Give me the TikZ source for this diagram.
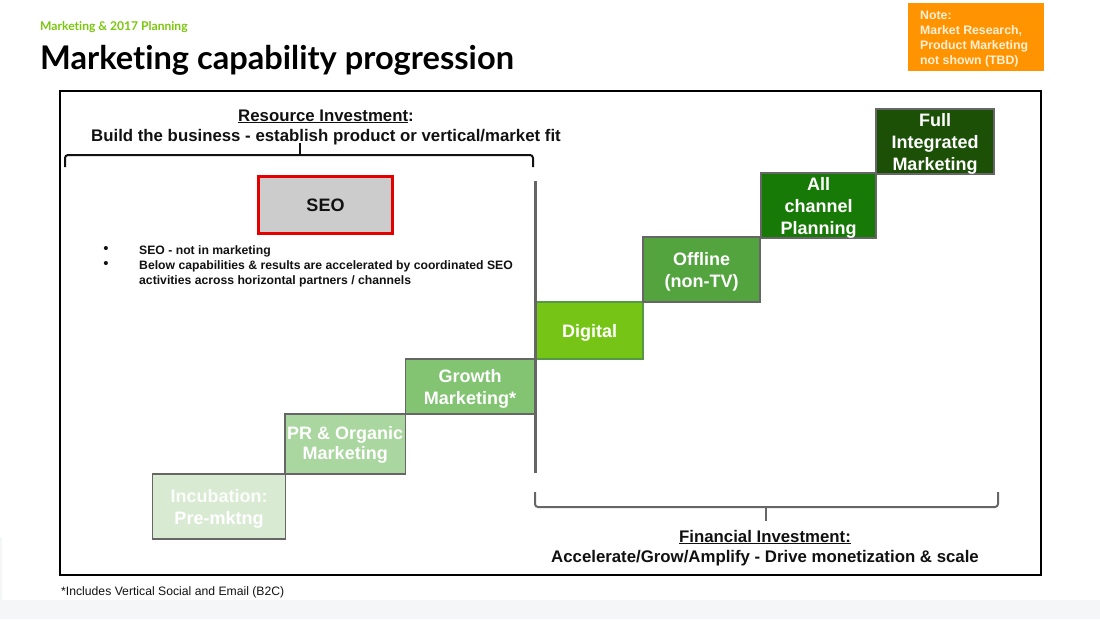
\documentclass[tikz,border=0pt]{standalone}
\usepackage{fontspec}
\setmainfont{Liberation Sans}
\newfontfamily\headfont[Ligatures=NoCommon]{Lato}
\definecolor{c1}{HTML}{D9EAD3}
\definecolor{c2}{HTML}{AAD69F}
\definecolor{c3}{HTML}{82C472}
\definecolor{c4}{HTML}{76C516}
\definecolor{c5}{HTML}{53A43F}
\definecolor{c6}{HTML}{177A06}
\definecolor{c7}{HTML}{1B5006}
\definecolor{edge}{HTML}{666666}
\definecolor{ink}{HTML}{111111}
\definecolor{soft}{HTML}{F5F6F8}
\definecolor{tag}{HTML}{7AC70C}
\definecolor{notebg}{HTML}{FF9400}
\definecolor{notefg}{HTML}{FFF0D8}
\tikzset{
 stepbox/.style={draw=edge,line width=1.2pt,inner sep=0pt,outer sep=0pt,anchor=north west},
 steplabel/.style={font=\bfseries\fontsize{18}{22}\selectfont,text=white,align=center,inner sep=0pt},
 bracegray/.style={draw=edge,line width=2pt,rounded corners=3pt},
 braceblack/.style={draw=ink,line width=2pt,rounded corners=3pt},
 headline/.style={font=\bfseries\fontsize{16.8}{20.5}\selectfont,text=ink,anchor=base,inner sep=0pt},
 smalltext/.style={font=\bfseries\fontsize{12.2}{15}\selectfont,text=ink,anchor=base west,inner sep=0pt},
 bulletmark/.style={font=\fontsize{15}{15}\selectfont,text=ink,inner sep=0pt}
}
\newcommand{\stepnode}[9]{%
 \node[stepbox,fill=#2,draw=#8,minimum width=#3pt,minimum height=#4pt] (#1) at (#5,#6) {};
 \node[steplabel] (#1t) at ([yshift=#9]#1.center) {#7};}
\begin{document}
\begin{tikzpicture}[x=1pt,y=-1pt]
\useasboundingbox (0,0) rectangle (1100,619);
\fill[soft] (0,600) rectangle (1100,619);
\fill[soft] (0,537) rectangle (2,600);
\node[anchor=base west,font=\headfont\bfseries\fontsize{12.1}{14}\selectfont,text=tag,inner sep=0pt] (tagline) at (40,30) {Marketing \& 2017 Planning};
\node[anchor=base west,font=\headfont\bfseries\fontsize{32.6}{36}\selectfont,text=black,inner sep=0pt] (title) at (40,69) {Marketing capability progression};
\node[anchor=north west,fill=notebg,minimum width=136pt,minimum height=68pt,inner sep=0pt,outer sep=0pt] (notebox) at (908,3) {};
\node[anchor=north west,font=\bfseries\fontsize{12.3}{15}\selectfont,text=notefg,align=left,inner sep=0pt] (notetext) at (920,11) {Note:\\Market Research,\\Product Marketing\\not shown (TBD)};
\node[draw=black,line width=2.4pt,anchor=north west,minimum width=981pt,minimum height=484pt,inner sep=0pt,outer sep=0pt] (frame) at (60,91) {};
\node[headline] (restop) at (326,121) {\underline{Resource Investment}:};
\node[headline] (resbot) at (326,141) {Build the business - establish product or vertical/market fit};
\coordinate (tl) at (65,167); \coordinate (tc) at (300,143); \coordinate (tr) at (533,167);
\draw[braceblack] (tl) -- (65,155) -- (tr |- 0,155) -- (tr);
\draw[draw=ink,line width=2pt] (tc) -- (tc |- 0,155);
\node[anchor=north west,fill=black!20,draw=red!90!black,line width=3pt,minimum width=134pt,minimum height=57pt,inner sep=0pt,outer sep=0pt] (seo) at (258.5,176.5) {};
\node[font=\bfseries\fontsize{18}{22}\selectfont,text=ink] (seot) at ([yshift=-0.5pt]seo.center) {SEO};
\node[bulletmark] (b1) at (106,250) {\textbullet};
\node[bulletmark] (b2) at (106,265) {\textbullet};
\node[smalltext] (l1) at (139,254) {SEO - not in marketing};
\node[smalltext] (l2) at (139,269) {Below capabilities \& results are accelerated by coordinated SEO};
\node[smalltext] (l3) at (139,284) {activities across horizontal partners / channels};
\stepnode{s1}{c1}{133}{65}{152.5}{474}{\color{white!90!c1}Incubation:\\Pre-mktng}{edge}{-2.4pt}
\stepnode{s2}{c2}{120.5}{60}{285}{414}{PR \& Organic\\[-2pt]Marketing}{edge}{-0.5pt}
\stepnode{s3}{c3}{129}{55}{405.5}{359}{Growth\\Marketing*}{edge}{-2.4pt}
\stepnode{s4}{c4}{107}{57}{536}{302}{Digital}{c5!80!edge}{-2.4pt}
\stepnode{s5}{c5}{117}{65}{643}{237}{Offline\\(non-TV)}{edge}{-2.4pt}
\stepnode{s6}{c6}{115}{65}{761}{173}{All\\channel\\Planning}{edge}{-2.4pt}
\stepnode{s7}{c7}{118}{65}{876}{109}{Full\\Integrated\\Marketing}{edge}{-2.4pt}
\coordinate (vt) at (535.5,181); \coordinate (vb) at (535.5,473);
\draw[draw=edge,line width=3pt] (vt) -- (vb);
\coordinate (bl) at (535,492); \coordinate (bc) at (766,521); \coordinate (br) at (998,492);
\draw[bracegray] (bl) -- (535,507) -- (998,507) -- (br);
\draw[draw=edge,line width=2pt] (bc) -- (bc |- 0,507);
\node[headline] (fintop) at (765,542) {\underline{Financial Investment:}};
\node[headline] (finbot) at (765,562) {Accelerate/Grow/Amplify - Drive monetization \& scale};
\node[anchor=base west,inner sep=0pt,font=\fontsize{12.2}{14}\selectfont,text=ink] (foot) at (61,595) {*Includes Vertical Social and Email (B2C)};
\end{tikzpicture}
\end{document}
